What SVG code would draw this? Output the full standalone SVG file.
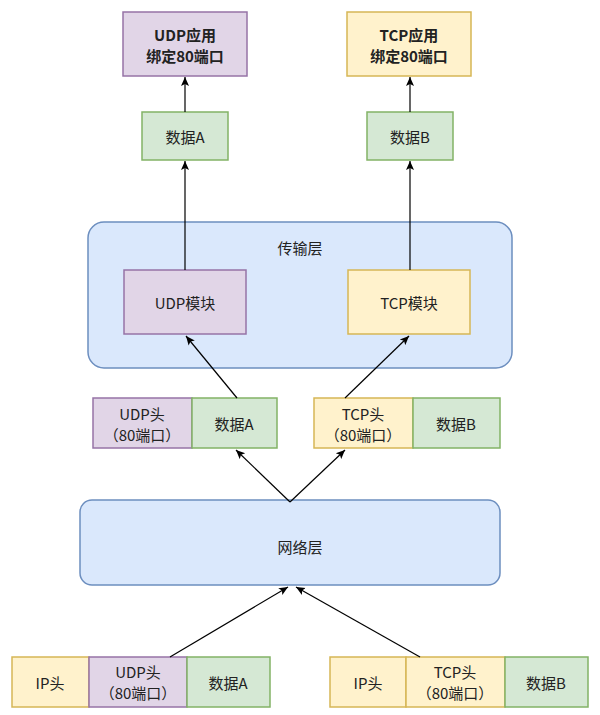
<svg xmlns="http://www.w3.org/2000/svg" width="600" height="715" viewBox="0 0 600 715">
<defs>
<marker id="ah" markerWidth="10" markerHeight="10" refX="9" refY="5" orient="auto" markerUnits="userSpaceOnUse"><path d="M0,1 L9,5 L0,9 L2,5 Z" fill="#000"/></marker>
</defs>
<style>
text{font-family:"Noto Sans CJK SC","Liberation Sans",sans-serif;font-size:15px;fill:#222;text-anchor:middle;dominant-baseline:central}
.b{font-weight:bold}
.p{fill:#e1d5e7;stroke:#9673a6;stroke-width:1.5}
.y{fill:#fff2cc;stroke:#d6b656;stroke-width:1.5}
.g{fill:#d5e8d4;stroke:#82b366;stroke-width:1.5}
.bl{fill:#dae8fc;stroke:#6c8ebf;stroke-width:1.5}
.c{stroke:#000;stroke-width:1.2;fill:none;marker-end:url(#ah)}
</style>
<g id="transport"><rect class="bl" x="88" y="222" width="424" height="146" rx="16"/><text x="300" y="247">传输层</text></g>
<g id="network"><rect class="bl" x="80" y="500" width="420" height="85" rx="12"/><text x="300" y="546">网络层</text></g>
<g id="udpapp"><rect class="p" x="123" y="12" width="124" height="64"/><text class="b" x="185" y="34">UDP应用</text><text class="b" x="185" y="55">绑定80端口</text></g>
<g id="tcpapp"><rect class="y" x="347" y="12" width="124" height="64"/><text class="b" x="409" y="34">TCP应用</text><text class="b" x="409" y="55">绑定80端口</text></g>
<g id="dataA1"><rect class="g" x="142" y="112" width="86" height="48"/><text x="185" y="136">数据A</text></g>
<g id="dataB1"><rect class="g" x="367" y="112" width="86" height="48"/><text x="410" y="136">数据B</text></g>
<g id="udpmod"><rect class="p" x="124" y="270" width="122" height="64"/><text x="185" y="302">UDP模块</text></g>
<g id="tcpmod"><rect class="y" x="348" y="270" width="122" height="64"/><text x="409" y="302">TCP模块</text></g>
<g id="udph2"><rect class="p" x="93" y="398" width="99" height="50"/><text x="142" y="413">UDP头</text><text x="142" y="434">（80端口）</text></g>
<g id="dataA2"><rect class="g" x="192" y="398" width="85" height="50"/><text x="234" y="423">数据A</text></g>
<g id="tcph2"><rect class="y" x="314" y="398" width="99" height="50"/><text x="363" y="413">TCP头</text><text x="363" y="434">（80端口）</text></g>
<g id="dataB2"><rect class="g" x="413" y="398" width="87" height="50"/><text x="456" y="423">数据B</text></g>
<g id="ip1"><rect class="y" x="12" y="657" width="77" height="50"/><text x="50" y="682">IP头</text></g>
<g id="udph3"><rect class="p" x="89" y="657" width="98" height="50"/><text x="138" y="671">UDP头</text><text x="138" y="692">（80端口）</text></g>
<g id="dataA3"><rect class="g" x="187" y="657" width="83" height="50"/><text x="228" y="682">数据A</text></g>
<g id="ip2"><rect class="y" x="330" y="657" width="76" height="50"/><text x="368" y="682">IP头</text></g>
<g id="tcph3"><rect class="y" x="406" y="657" width="99" height="50"/><text x="455" y="671">TCP头</text><text x="455" y="692">（80端口）</text></g>
<g id="dataB3"><rect class="g" x="505" y="657" width="83" height="50"/><text x="546" y="682">数据B</text></g>
<g id="connectors">
<path class="c" d="M185,112 L185,77"/>
<path class="c" d="M410,112 L410,77"/>
<path class="c" d="M185,270 L185,161"/>
<path class="c" d="M410,270 L410,161"/>
<path class="c" d="M237,398 L186,336"/>
<path class="c" d="M345,398 L409,336"/>
<path class="c" d="M290,502 L236,450"/>
<path class="c" d="M290,502 L345,450"/>
<path class="c" d="M170,657 L288,587"/>
<path class="c" d="M420,657 L296,587"/>
</g>
</svg>
